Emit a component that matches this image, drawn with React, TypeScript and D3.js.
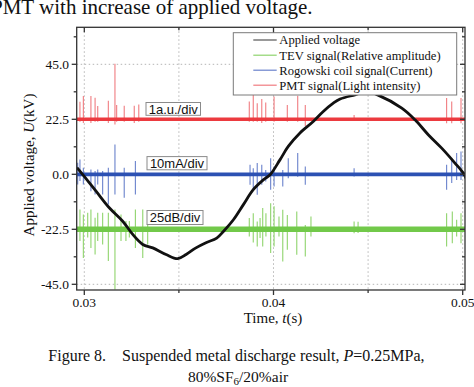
import React from "react";
import * as d3 from "d3";

// ---------- data ----------
const X_TICKS = [0.03, 0.04, 0.05];
const X_TICK_LABELS = ["0.03", "0.04", "0.05"];
const X_MINOR = [0.035, 0.045];
const X_GRID = [0.03, 0.035, 0.04, 0.045, 0.05];
const Y_TICKS = [45, 22.5, 0, -22.5, -45];
const Y_TICK_LABELS = ["45.0", "22.5", "0.0", "-22.5", "-45.0"];
const Y_MINOR = [56.25, 33.75, 11.25, -11.25, -33.75];

// applied voltage (kV) vs time (s)
const VOLT_T = [0.02961, 0.02992, 0.03062, 0.03132, 0.03203, 0.03256, 0.03309, 0.03362, 0.03432, 0.03494, 0.03538, 0.0359, 0.03643, 0.037, 0.03735, 0.03788, 0.0384, 0.03893, 0.03946, 0.03982, 0.04034, 0.04078, 0.0414, 0.0421, 0.04263, 0.04316, 0.04352, 0.04431, 0.04495, 0.0455, 0.04678, 0.04748, 0.04818, 0.04889, 0.04959, 0.05003, 0.05021];
const VOLT_V = [2.7, -0.1, -6.9, -13.7, -19.2, -24.6, -28.7, -30.1, -32.8, -34.5, -32.8, -30.1, -28.0, -26.1, -23.4, -18.6, -12.5, -6.3, -2.3, -0.2, 5.9, 11.4, 16.9, 21.6, 25.7, 29.1, 30.8, 32.5, 33.8, 32.5, 27.1, 22.3, 16.2, 10.7, 4.6, 0.5, -2.3];

// offsets of each trace on the voltage axis
const PMT_BASE = 22.5;
const ROGO_BASE = 0;
const TEV_BASE = -22.5;

// spikes: [time, top, bottom] in axis units
const PMT_SPIKES: [number, number, number][] = [
  [0.02977, 29.7, 21.5], [0.02995, 32.0, 21.0], [0.03035, 32.0, 21.0], [0.03057, 31.3, 21.5],
  [0.03071, 27.9, 21.5], [0.03127, 30.1, 21.0], [0.03162, 45.2, 20.4], [0.03171, 28.4, 21.5],
  [0.03211, 28.0, 21.5], [0.03264, 28.0, 21.0], [0.03288, 28.6, 21.5],
  [0.03872, 29.8, 21.5], [0.03893, 34.5, 21.5], [0.03914, 29.1, 21.5], [0.03938, 30.8, 21.0],
  [0.03959, 29.4, 21.5], [0.04003, 31.8, 21.5], [0.04073, 28.4, 21.5], [0.04128, 32.1, 21.5],
  [0.04168, 28.4, 19.8], [0.04426, 24.3, 22.0],
  [0.04915, 31.2, 20.9], [0.04942, 29.8, 20.9], [0.04991, 31.2, 20.9],
];
const ROGO_SPIKES: [number, number, number][] = [
  [0.02965, 4.7, -4.2], [0.02977, 6.1, -2.7], [0.02995, 2.7, -4.2], [0.03035, 2.0, -6.9],
  [0.03057, 1.3, -8.3], [0.03071, 2.0, -4.2], [0.03097, 1.3, -8.3], [0.03127, 2.7, -12.4],
  [0.03162, 12.2, -8.3], [0.03211, 2.7, -9.6], [0.0327, 5.4, -8.3],
  [0.03876, 3.9, -4.3], [0.03893, 2.5, -6.3], [0.03914, 4.6, -8.4], [0.03938, 3.9, -4.3],
  [0.03959, 1.8, -2.9], [0.03985, 6.6, -6.3], [0.04003, 3.2, -5.0], [0.04049, 1.8, -5.0],
  [0.04078, 6.6, -1.6], [0.04128, 8.7, -1.0], [0.04168, 3.2, -4.3], [0.04426, 2.5, -0.9],
  [0.04915, 3.9, -6.3], [0.04942, 5.9, -3.6], [0.04968, 8.7, -2.3], [0.04991, 9.3, -2.3],
];
const TEV_SPIKES: [number, number, number][] = [
  [0.02977, -14.4, -27.3], [0.02995, -16.4, -34.2], [0.03018, -15.7, -25.9], [0.03035, -14.4, -30.1],
  [0.03057, -17.8, -32.8], [0.03071, -15.7, -27.3], [0.03097, -15.7, -28.7], [0.03127, -15.7, -35.5],
  [0.03162, -14.4, -47.1], [0.03194, -16.4, -27.3], [0.0322, -19.1, -27.3], [0.03238, -19.1, -25.9],
  [0.0327, -14.4, -30.1], [0.03309, -14.4, -34.2], [0.03335, -17.8, -28.7],
  [0.03872, -17.9, -25.4], [0.03893, -15.9, -27.9], [0.03914, -19.3, -29.5], [0.03929, -17.9, -26.1],
  [0.03943, -13.8, -29.5], [0.0396, -15.9, -25.4], [0.03985, -11.8, -32.2], [0.04003, -13.1, -29.5],
  [0.04029, -17.3, -25.4], [0.04049, -14.5, -35.7], [0.04073, -16.6, -30.9], [0.04123, -15.2, -32.9],
  [0.04168, -20.7, -33.6], [0.04198, -17.3, -25.4], [0.04426, -19.3, -24.1], [0.04447, -19.4, -24.0],
  [0.04915, -15.9, -29.5], [0.04945, -15.2, -28.2], [0.04968, -18.6, -25.4], [0.04991, -15.9, -28.2],
];

const LEGEND_LABELS = [
  "Applied voltage",
  "TEV signal(Relative amplitude)",
  "Rogowski coil signal(Current)",
  "PMT signal(Light intensity)",
];
const SCALE_LABELS = ["1a.u./div", "10mA/div", "25dB/div"];

// ---------- layout ----------
const W = 474, H = 387;
const FRAME = { l: 76.7, r: 465, t: 27.3, b: 290 };
const SERIF = "'Liberation Serif', 'Times New Roman', serif";
const SANS = "'Liberation Sans', Arial, sans-serif";

const RED = "#ec3a3f", RED_L = "#f07c80";
const BLUE = "#2c51b3", BLUE_L = "#6a82cc";
const GREEN = "#72c94a", GREEN_L = "#8fd46c";

export default function App() {
  const x = d3.scaleLinear().domain([0.03, 0.05]).range([84.3, 462.7]);
  const y = d3.scaleLinear().domain([-45, 45]).range([284.3, 64.3]);

  const voltPts = VOLT_T.map((t, i) => [t, VOLT_V[i]] as [number, number]);
  const voltLine = d3.line<[number, number]>().x(d => x(d[0])).y(d => y(d[1])).curve(d3.curveCatmullRom.alpha(0.5));

  const spikes = (arr: [number, number, number][], color: string, key: string) =>
    arr.map((s, i) => (
      <line key={key + i} x1={x(s[0])} x2={x(s[0])} y1={y(s[1])} y2={y(s[2])} stroke={color} strokeWidth={1.1} />
    ));

  const legendColors = ["#555", GREEN_L, BLUE_L, RED_L];
  const legendRowY = [40, 55.2, 70.2, 85.2];

  const scaleBoxes = [
    { label: SCALE_LABELS[0], x0: 146, y0: 102.5, w: 54.5, h: 12.8 },
    { label: SCALE_LABELS[1], x0: 147, y0: 156.6, w: 60, h: 13.2 },
    { label: SCALE_LABELS[2], x0: 147, y0: 210.5, w: 56, h: 14 },
  ];

  return (
    <svg width={W} height={H} style={{ position: "absolute", left: 0, top: 0, background: "#fff" }}>
      <defs>
        <clipPath id="plotClip">
          <rect x={FRAME.l} y={FRAME.t} width={FRAME.r - FRAME.l} height={FRAME.b - FRAME.t} />
        </clipPath>
      </defs>

      {/* text of the page above, cut off by the crop */}
      <text x={-9} y={14} fontFamily={SERIF} fontSize={21} fill="#111">PMT with increase of applied voltage.</text>

      {/* grid */}
      <g stroke="#b5b5b5" strokeWidth={1} strokeDasharray="1.5,2.5">
        {X_GRID.map((t, i) => (
          <line key={"gx" + i} x1={x(t)} x2={x(t)} y1={FRAME.t} y2={FRAME.b} />
        ))}
        {Y_TICKS.map((v, i) => (
          <line key={"gy" + i} x1={FRAME.l} x2={FRAME.r} y1={y(v)} y2={y(v)} />
        ))}
      </g>

      <g clipPath="url(#plotClip)">
        {spikes(PMT_SPIKES, RED_L, "p")}
        <line x1={FRAME.l} x2={FRAME.r} y1={y(PMT_BASE)} y2={y(PMT_BASE)} stroke={RED} strokeWidth={3.6} />
        {spikes(ROGO_SPIKES, BLUE_L, "r")}
        <line x1={FRAME.l} x2={FRAME.r} y1={y(ROGO_BASE)} y2={y(ROGO_BASE)} stroke={BLUE} strokeWidth={3.8} />
        {spikes(TEV_SPIKES, GREEN_L, "g")}
        <line x1={FRAME.l} x2={FRAME.r} y1={y(TEV_BASE)} y2={y(TEV_BASE)} stroke={GREEN} strokeWidth={5.5} />
        <path d={voltLine(voltPts) || ""} fill="none" stroke="#111" strokeWidth={2.8} strokeLinejoin="round" />
      </g>

      {scaleBoxes.map((b, i) => (
        <g key={"sb" + i}>
          <rect x={b.x0} y={b.y0} width={b.w} height={b.h} fill="#fff" stroke="#8a8a8a" strokeWidth={1} />
          <text x={b.x0 + b.w / 2} y={b.y0 + b.h / 2 + 4.6} textAnchor="middle" fontFamily={SANS} fontSize={13} fill="#111">{b.label}</text>
        </g>
      ))}

      {/* legend */}
      <rect x={233.3} y={32.7} width={223.4} height={62.3} fill="#fff" stroke="#7a7a7a" strokeWidth={1} />
      {LEGEND_LABELS.map((lab, i) => (
        <g key={"lg" + i}>
          <line x1={253.3} x2={276.7} y1={legendRowY[i]} y2={legendRowY[i]} stroke={legendColors[i]} strokeWidth={1.2} />
          <text x={279.3} y={legendRowY[i] + 4.3} fontFamily={SERIF} fontSize={12.6} fill="#111">{lab}</text>
        </g>
      ))}

      {/* frame */}
      <rect x={FRAME.l} y={FRAME.t} width={FRAME.r - FRAME.l} height={FRAME.b - FRAME.t} fill="none" stroke="#333" strokeWidth={1.3} />

      <g stroke="#333" strokeWidth={1.3}>
        {X_TICKS.map((t, i) => (
          <g key={"xt" + i}>
            <line x1={x(t)} x2={x(t)} y1={FRAME.b} y2={FRAME.b + 5} />
            <line x1={x(t)} x2={x(t)} y1={FRAME.t} y2={FRAME.t + 5} />
          </g>
        ))}
        {X_MINOR.map((t, i) => (
          <g key={"xm" + i}>
            <line x1={x(t)} x2={x(t)} y1={FRAME.b} y2={FRAME.b + 3} />
            <line x1={x(t)} x2={x(t)} y1={FRAME.t} y2={FRAME.t + 3} />
          </g>
        ))}
        {Y_TICKS.map((v, i) => (
          <g key={"yt" + i}>
            <line x1={FRAME.l - 5} x2={FRAME.l} y1={y(v)} y2={y(v)} />
            <line x1={FRAME.r - 5} x2={FRAME.r} y1={y(v)} y2={y(v)} />
          </g>
        ))}
        {Y_MINOR.map((v, i) => (
          <g key={"ym" + i}>
            <line x1={FRAME.l - 3} x2={FRAME.l} y1={y(v)} y2={y(v)} />
            <line x1={FRAME.r - 3} x2={FRAME.r} y1={y(v)} y2={y(v)} />
          </g>
        ))}
      </g>

      {Y_TICKS.map((v, i) => (
        <text key={"yl" + i} x={69} y={y(v) + 4.5} textAnchor="end" fontFamily={SERIF} fontSize={13.5} fill="#111">{Y_TICK_LABELS[i]}</text>
      ))}
      {X_TICKS.map((t, i) => (
        <text key={"xl" + i} x={x(t)} y={307} textAnchor="middle" fontFamily={SERIF} fontSize={13.5} fill="#111">{X_TICK_LABELS[i]}</text>
      ))}

      <text x={273} y={323} textAnchor="middle" fontFamily={SERIF} fontSize={15} fill="#111">
        Time, <tspan fontStyle="italic">t</tspan>(s)
      </text>
      <text transform={`translate(34,165) rotate(-90)`} textAnchor="middle" fontFamily={SERIF} fontSize={15} fill="#111">
        Applied voltage, <tspan fontStyle="italic">U</tspan>(kV)
      </text>

      <text x={48.3} y={361} fontFamily={SERIF} fontSize={16} fill="#111" xmlSpace="preserve">
        Figure 8.{"\u00a0\u00a0\u00a0 "}Suspended metal discharge result, <tspan fontStyle="italic">P</tspan>=0.25MPa,
      </text>
      <text x={238} y={382} textAnchor="middle" fontFamily={SERIF} fontSize={15.5} fill="#111">
        80%SF<tspan fontSize={11} dy={3}>6</tspan><tspan dy={-3}>/20%air</tspan>
      </text>
    </svg>
  );
}
